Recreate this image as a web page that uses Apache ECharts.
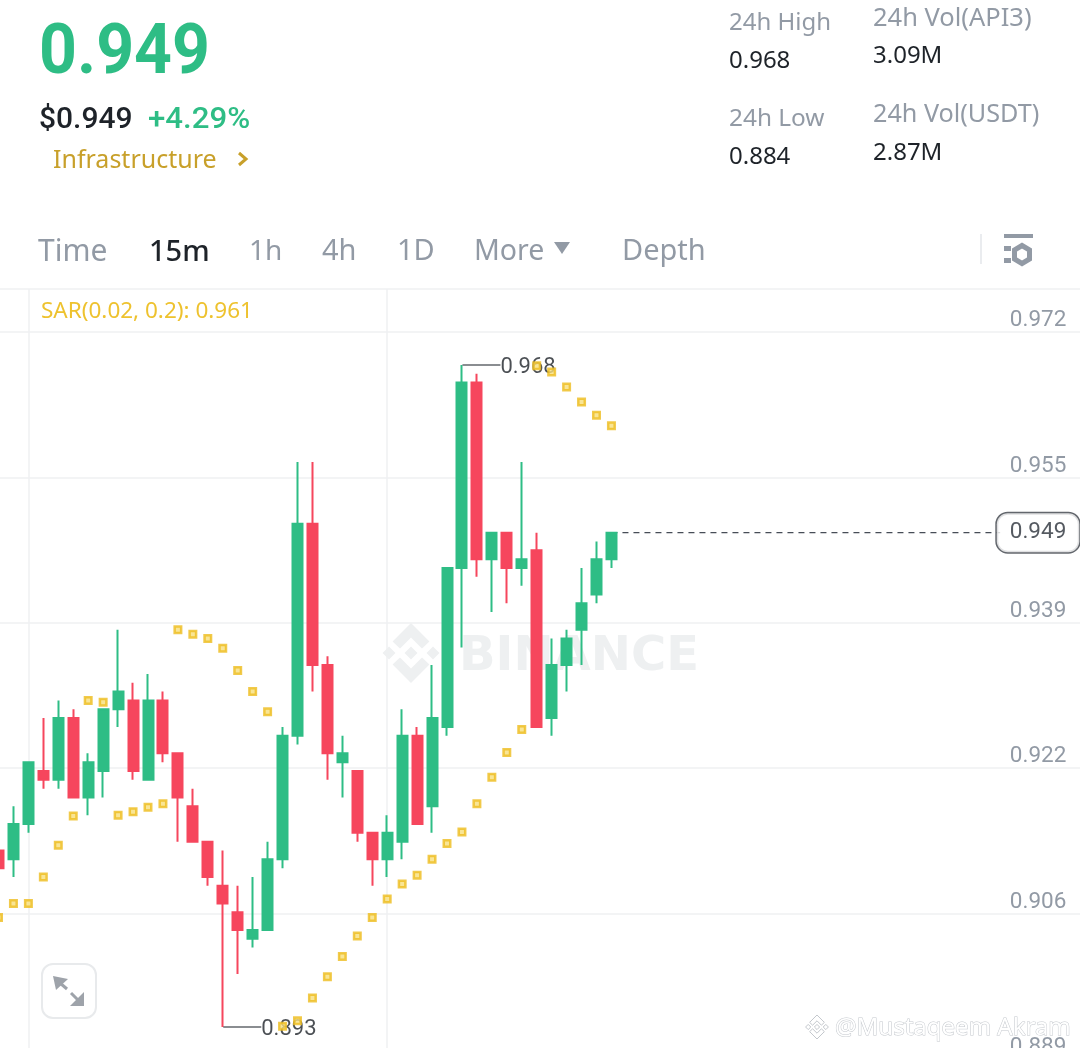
<!DOCTYPE html>
<html>
<head>
<meta charset="utf-8">
<title>API3 15m</title>
<style>
html, body { margin: 0; padding: 0; background: #fff; }
#chart { width: 1080px; height: 1048px; }
</style>
<script src="https://cdn.jsdelivr.net/npm/echarts@6/dist/echarts.min.js"></script>
</head>
<body>
<div id="chart"></div>
<script>
// 蜡烛 - 每根 15m
const opens = [0.913, 0.912, 0.916, 0.922, 0.921, 0.928, 0.919, 0.922, 0.929, 0.930, 0.921, 0.930, 0.924, 0.918, 0.914, 0.909, 0.906, 0.903, 0.904, 0.912, 0.926, 0.950, 0.934, 0.923, 0.922, 0.915, 0.912, 0.914, 0.926, 0.918, 0.927, 0.945, 0.966, 0.946, 0.949, 0.945, 0.947, 0.928, 0.934, 0.938, 0.942, 0.946]
const closes = [0.911, 0.916, 0.923, 0.921, 0.928, 0.919, 0.923, 0.929, 0.931, 0.922, 0.930, 0.924, 0.919, 0.914, 0.910, 0.907, 0.904, 0.904, 0.912, 0.926, 0.950, 0.934, 0.924, 0.924, 0.915, 0.912, 0.915, 0.926, 0.916, 0.928, 0.945, 0.966, 0.946, 0.949, 0.945, 0.946, 0.927, 0.934, 0.937, 0.941, 0.946, 0.949]
const lows = [0.911, 0.910, 0.915, 0.920, 0.920, 0.919, 0.917, 0.919, 0.927, 0.921, 0.921, 0.923, 0.914, 0.914, 0.909, 0.893, 0.899, 0.902, 0.904, 0.911, 0.925, 0.931, 0.921, 0.919, 0.914, 0.909, 0.910, 0.912, 0.916, 0.915, 0.926, 0.936, 0.944, 0.940, 0.941, 0.943, 0.927, 0.926, 0.931, 0.934, 0.941, 0.945]
const highs = [0.913, 0.918, 0.923, 0.928, 0.930, 0.929, 0.924, 0.929, 0.938, 0.932, 0.933, 0.931, 0.924, 0.920, 0.914, 0.913, 0.909, 0.910, 0.914, 0.927, 0.957, 0.957, 0.935, 0.926, 0.922, 0.915, 0.917, 0.929, 0.927, 0.934, 0.945, 0.968, 0.967, 0.949, 0.949, 0.957, 0.949, 0.937, 0.938, 0.945, 0.948, 0.949]
// SAR(0.02, 0.2)
const sarValues = [0.9054, 0.9070, 0.9070, 0.9100, 0.9136, 0.9169, 0.9300, 0.9298, 0.9170, 0.9174, 0.9179, 0.9183, 0.9380, 0.9375, 0.9370, 0.9359, 0.9334, 0.9310, 0.9287, 0.8931, 0.8937, 0.8963, 0.8987, 0.9010, 0.9033, 0.9054, 0.9075, 0.9092, 0.9102, 0.9120, 0.9138, 0.9151, 0.9183, 0.9213, 0.9241, 0.9267, 0.9679, 0.9672, 0.9655, 0.9638, 0.9623, 0.9611]
// 最高 最低 标注 [下标, 价格]
const extremes = [[31, 0.968], [15, 0.893]]
const lastPrice = 0.949
// 右边留白的空位也算类目
const slotCount = 73
const categories = Array.from({ length: slotCount }, (_, i) => String(i))
const verticalLineAt = [2, 26]
const priceStep = 0.01647
const priceMin = 0.88938
const priceMax = 0.9766

const GREEN = '#2ebd85'
const RED = '#f6465d'
const GOLD = '#c8a02a'
const GRAY = '#929aa5'
const INK = '#1e2329'
const LINE = '#eff0f2'
const UI_FONT = '"Noto Sans", sans-serif'
const NUM_FONT = 'Roboto, sans-serif'

function label(text, x, y, font, fill, scaleX) {
    return { type: 'text', z: 5, x, y, scaleX: scaleX || 1, style: { text, font, fill, verticalAlign: 'middle' } }
}

// 币安菱形 logo
function logo(cx, cy, s, style, z) {
    const polys = [
        [[0, -30], [18.4, -11.6], [11, -4.5], [0, -15.5], [-11, -4.5], [-18.4, -11.6]],
        [[0, 30], [18.4, 11.6], [11, 4.5], [0, 15.5], [-11, 4.5], [-18.4, 11.6]],
        [[0, -6.5], [6.5, 0], [0, 6.5], [-6.5, 0]],
        [[-22, -6.5], [-15.5, 0], [-22, 6.5], [-28.5, 0]],
        [[22, -6.5], [28.5, 0], [22, 6.5], [15.5, 0]]
    ]
    return polys.map(p => ({
        type: 'polygon',
        z,
        shape: { points: p.map(([x, y]) => [cx + x * s, cy + y * s]) },
        style
    }))
}

const graphics = [
    // 顶部行情
    label('0.949', 39, 55, 'bold 70px ' + NUM_FONT, GREEN, 0.945),
    label('$0.949', 39, 120, '500 30px ' + NUM_FONT, INK),
    label('+4.29%', 148, 120, '500 30px ' + NUM_FONT, GREEN, 1.04),
    label('Infrastructure', 53, 161, '25px ' + UI_FONT, GOLD),
    { type: 'polyline', z: 5, shape: { points: [[239, 153], [246, 159], [239, 165]] }, style: { stroke: GOLD, lineWidth: 3, fill: 'none' } },
    label('24h High', 729, 23, '24px ' + UI_FONT, GRAY),
    label('0.968', 729, 61, '24px ' + UI_FONT, INK),
    label('24h Low', 729, 119, '24.4px ' + UI_FONT, GRAY),
    label('0.884', 729, 157, '24px ' + UI_FONT, INK),
    label('24h Vol(API3)', 873, 19, '25.5px ' + UI_FONT, GRAY),
    label('3.09M', 873, 56, '24px ' + UI_FONT, INK),
    label('24h Vol(USDT)', 873, 115, '25.2px ' + UI_FONT, GRAY),
    label('2.87M', 873, 153, '24px ' + UI_FONT, INK),
    // 周期切换
    label('Time', 38, 252, '30px ' + UI_FONT, GRAY),
    label('15m', 149, 253, '500 29px ' + UI_FONT, INK),
    label('1h', 249, 252, '28px ' + UI_FONT, GRAY),
    label('4h', 322, 252, '29px ' + UI_FONT, GRAY),
    label('1D', 397, 252, '29px ' + UI_FONT, GRAY),
    label('More', 474, 252, '28.5px ' + UI_FONT, GRAY),
    { type: 'polygon', z: 5, shape: { points: [[554, 242], [570, 242], [562, 254]] }, style: { fill: GRAY } },
    label('Depth', 622, 252, '29px ' + UI_FONT, GRAY),
    { type: 'line', z: 5, shape: { x1: 981, y1: 234, x2: 981, y2: 264 }, style: { stroke: '#eaecef', lineWidth: 2 } },
    { type: 'rect', z: 5, shape: { x: 1004, y: 234, width: 29, height: 4 }, style: { fill: GRAY } },
    { type: 'rect', z: 5, shape: { x: 1004, y: 246, width: 7, height: 5 }, style: { fill: GRAY } },
    { type: 'rect', z: 5, shape: { x: 1004, y: 258, width: 7, height: 5 }, style: { fill: GRAY } },
    { type: 'polygon', z: 5, shape: { points: [[1022, 245.5], [1029.5, 250], [1029.5, 259], [1022, 263.5], [1014.5, 259], [1014.5, 250]] }, style: { stroke: GRAY, lineWidth: 5, fill: '#fff' } },
    // 指标
    label('SAR(0.02, 0.2): 0.961', 41, 312, '22.5px ' + UI_FONT, '#eec22e'),
    // 水印
    ...logo(411, 653, 1, { fill: '#eef0f1' }, 1),
    { type: 'text', z: 1, x: 459, y: 658, style: { text: 'BINANCE', font: 'bold 48px "DejaVu Sans"', fill: '#eef0f1', verticalAlign: 'middle' } },
    ...logo(817, 1027, 0.4, { stroke: '#c4c8cd', lineWidth: 1, fill: '#fff' }, 5),
    { type: 'text', z: 5, x: 835, y: 1028, style: { text: '@Mustaqeem Akram', font: '24px ' + UI_FONT, fill: '#fff', stroke: '#c4c8cd', lineWidth: 1, verticalAlign: 'middle' } },
    // 全屏按钮
    { type: 'rect', z: 5, shape: { x: 42, y: 964, width: 54, height: 54, r: 11 }, style: { fill: '#fff', stroke: '#e8eaec', lineWidth: 2 } },
    { type: 'polygon', z: 6, shape: { points: [[53, 976], [68, 979], [56, 990]] }, style: { fill: '#9ea3aa' } },
    { type: 'polygon', z: 6, shape: { points: [[84, 1006], [70, 1006], [84, 992]] }, style: { fill: '#9ea3aa' } },
    { type: 'line', z: 6, shape: { x1: 60, y1: 983, x2: 67, y2: 989 }, style: { stroke: '#9ea3aa', lineWidth: 3 } },
    { type: 'line', z: 6, shape: { x1: 71, y1: 993, x2: 78, y2: 1000 }, style: { stroke: '#9ea3aa', lineWidth: 3 } }
]

const chart = echarts.init(document.getElementById('chart'))
const option = {
    animation: false,
    backgroundColor: '#fff',
    grid: { left: -8.975, top: 289, width: 1091.35, height: 770, outerBoundsMode: 'none' },
    xAxis: {
        type: 'category',
        data: categories,
        axisLine: { show: false },
        axisTick: { show: false },
        axisLabel: { show: false },
        splitLine: {
            show: true,
            alignWithLabel: true,
            interval: i => verticalLineAt.includes(i),
            lineStyle: { color: LINE, width: 1.5 }
        }
    },
    yAxis: {
        type: 'value',
        position: 'right',
        min: priceMin,
        max: priceMax,
        interval: priceStep,
        scale: true,
        axisLine: { show: false },
        axisTick: { show: false },
        axisLabel: {
            inside: true,
            margin: 16,
            color: GRAY,
            fontSize: 22.5,
            fontFamily: 'Roboto',
            verticalAlign: 'bottom',
            showMaxLabel: false,
            showMinLabel: true,
            formatter: v => v.toFixed(3)
        },
        splitLine: { lineStyle: { color: LINE, width: 1.5 } }
    },
    graphic: graphics,
    series: [
        {
            type: 'line',
            z: 1,
            symbol: 'none',
            data: [[41, lastPrice], [67, lastPrice]],
            lineStyle: { color: '#474d57', type: [6, 5], width: 1.2 }
        },
        {
            type: 'candlestick',
            z: 2,
            barWidth: 10.5,
            data: opens.map((o, i) => [o, closes[i], lows[i], highs[i]]),
            itemStyle: { color: GREEN, color0: RED, borderColor: GREEN, borderColor0: RED, borderWidth: 2 }
        },
        {
            type: 'scatter',
            z: 3,
            symbolSize: 1,
            data: extremes,
            itemStyle: { color: 'transparent' },
            label: {
                show: true,
                position: 'right',
                distance: 0,
                formatter: p => '{lead|}{val|' + p.value[1].toFixed(3) + '}',
                rich: {
                    lead: { width: 38, height: 1.5, backgroundColor: '#3c4148' },
                    val: { fontSize: 22, fontFamily: 'Roboto', color: INK, padding: [5, 0, 0, 0] }
                }
            }
        },
        {
            type: 'scatter',
            z: 4,
            symbol: 'rect',
            symbolSize: 6.5,
            data: sarValues.map((v, i) => [i, v]),
            itemStyle: { color: '#f8de7a', borderColor: '#edbd1f', borderWidth: 2.5 }
        },
        {
            // 最新价胶囊
            type: 'scatter',
            z: 6,
            symbolSize: 1,
            data: [[69, lastPrice]],
            itemStyle: { color: 'transparent' },
            label: {
                show: true,
                position: 'inside',
                offset: [8, 0],
                formatter: p => p.value[1].toFixed(3),
                fontSize: 22.5,
                fontFamily: 'Roboto',
                color: '#2b3139',
                backgroundColor: '#fff',
                borderColor: '#3c4148',
                borderWidth: 1.5,
                borderRadius: 11,
                padding: [11, 13, 5, 13]
            }
        }
    ]
}
chart.setOption(option)
window.addEventListener('resize', () => {
    chart.resize()
})
</script>
</body>
</html>
